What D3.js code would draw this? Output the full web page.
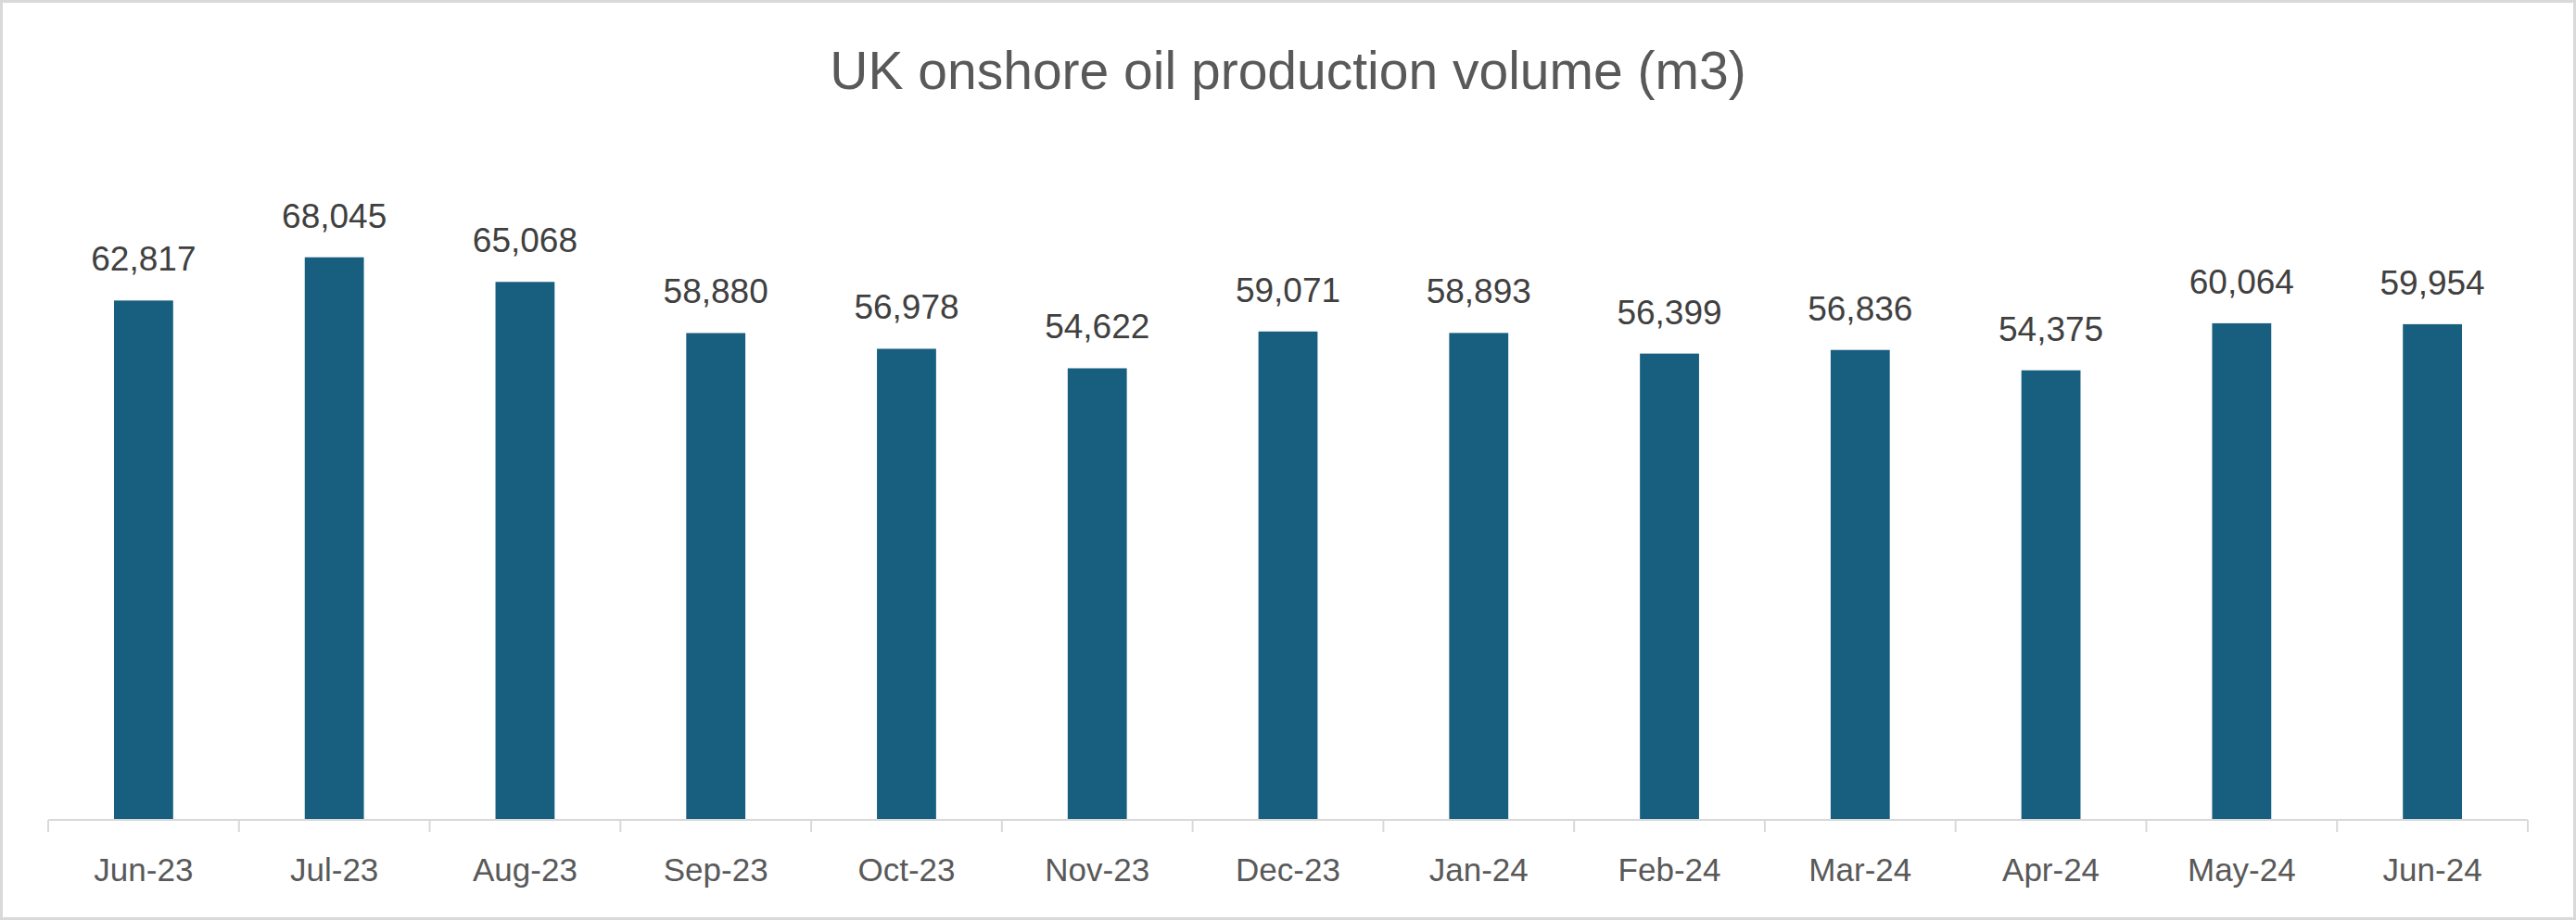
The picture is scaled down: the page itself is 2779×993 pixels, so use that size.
<!DOCTYPE html>
<html lang="en">
<head>
    <meta charset="UTF-8">
    <script src="https://d3js.org/d3.v7.min.js"></script>
    <style>
        body { margin: 0; background: #ffffff; font-family: "Liberation Sans", Arial, sans-serif; }
        .bar { fill: #185e7f; }
        .value { font-size: 37px; fill: #404040; text-anchor: middle; }
        .cat { font-size: 35px; fill: #595959; text-anchor: middle; }
        .title { font-size: 57px; fill: #595959; text-anchor: middle; }
    </style>
</head>
<body>
    <svg id="chart" width="2779" height="993"></svg>

    <script>
        const months = ["Jun-23", "Jul-23", "Aug-23", "Sep-23", "Oct-23", "Nov-23", "Dec-23",
                        "Jan-24", "Feb-24", "Mar-24", "Apr-24", "May-24", "Jun-24"];
        const volumes = [62817, 68045, 65068, 58880, 56978, 54622, 59071,
                         58893, 56399, 56836, 54375, 60064, 59954];
        const chartTitle = "UK onshore oil production volume (m3)";

        const data = months.map((m, i) => ({ month: m, value: volumes[i] }));

        const W = 2779, H = 993;
        const plot = { left: 52, right: 2727, top: 171, bottom: 885 };

        const svg = d3.select("#chart");

        // outer frame
        svg.append("rect")
            .attr("x", 1.5).attr("y", 1.5)
            .attr("width", W - 3).attr("height", H - 3)
            .attr("fill", "#ffffff")
            .attr("stroke", "#d9d9d9")
            .attr("stroke-width", 3);

        svg.append("text")
            .attr("class", "title")
            .attr("x", W / 2)
            .attr("y", 96)
            .text(chartTitle);

        // band for categories (axis) and band for bars
        const xCat = d3.scaleBand()
            .domain(months)
            .range([plot.left, plot.right])
            .padding(0);

        const x = d3.scaleBand()
            .domain(months)
            .range([plot.left, plot.right])
            .paddingInner(0.69)
            .paddingOuter(0.345);

        const y = d3.scaleLinear()
            .domain([0, 80000])
            .range([plot.bottom, plot.top]);

        svg.selectAll(".bar")
            .data(data)
            .enter().append("rect")
            .attr("class", "bar")
            .attr("x", d => x(d.month))
            .attr("y", d => y(d.value))
            .attr("width", x.bandwidth())
            .attr("height", d => y(0) - y(d.value));

        svg.selectAll(".value")
            .data(data)
            .enter().append("text")
            .attr("class", "value")
            .attr("x", d => x(d.month) + x.bandwidth() / 2)
            .attr("y", d => y(d.value) - 32)
            .text(d => d3.format(",")(d.value));

        // category axis
        const axis = svg.append("g")
            .attr("transform", `translate(0,${plot.bottom})`);

        axis.append("line")
            .attr("x1", plot.left).attr("x2", plot.right)
            .attr("y1", 0).attr("y2", 0)
            .attr("stroke", "#d9d9d9")
            .attr("stroke-width", 2);

        const edges = months.map(m => xCat(m)).concat([plot.right]);
        axis.selectAll(".tick-line")
            .data(edges)
            .enter().append("line")
            .attr("class", "tick-line")
            .attr("x1", d => d).attr("x2", d => d)
            .attr("y1", 0).attr("y2", 13)
            .attr("stroke", "#d9d9d9")
            .attr("stroke-width", 2);

        axis.selectAll(".cat")
            .data(months)
            .enter().append("text")
            .attr("class", "cat")
            .attr("x", d => xCat(d) + xCat.bandwidth() / 2)
            .attr("y", 66)
            .text(d => d);
    </script>
</body>
</html>
